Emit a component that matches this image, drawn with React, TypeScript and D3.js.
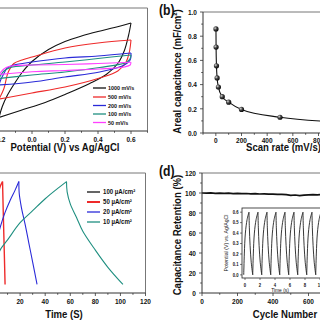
import * as d3 from "d3";

// ---------- (a) cyclic voltammetry, [potential (V), current (a.u.)]
const cvLabels = ["1000 mV/s", "500 mV/s", "200 mV/s", "100 mV/s", "50 mV/s"];
const cvColors = ["#111111", "#ee2a2a", "#2a2ad8", "#1f8f80", "#ff40ff"];

const cv1000Up = [[-0.2, -4.8], [-0.18, -3.7], [-0.15, -2.6], [-0.11, -1.5], [-0.06, -0.3], [0, 0.8], [0.1, 2.0], [0.2, 2.8], [0.3, 3.35], [0.4, 3.8], [0.5, 4.2], [0.6, 4.65]];
const cv1000Down = [[0.6, 4.65], [0.585, 3.4], [0.56, 1.9], [0.52, 0.6], [0.45, -0.5], [0.35, -1.4], [0.2, -2.5], [0.08, -3.3], [-0.07, -4.1], [-0.2, -4.8]];
const cv500Up = [[-0.2, -2.95], [-0.17, -1.9], [-0.145, -0.3], [-0.11, 0.6], [-0.06, 0.95], [0, 1.25], [0.2, 2.15], [0.4, 2.65], [0.6, 2.95]];
const cv500Down = [[0.6, 2.95], [0.59, 1.75], [0.57, 0.75], [0.52, -0.15], [0.41, -0.85], [0.2, -1.75], [0, -2.35], [-0.13, -2.75], [-0.2, -2.95]];
const cv200Up = [[-0.2, -1.55], [-0.19, -1.05], [-0.17, -0.4], [-0.15, 0.15], [-0.11, 0.45], [0, 0.75], [0.2, 1.15], [0.4, 1.35], [0.6, 1.65]];
const cv200Down = [[0.6, 1.65], [0.595, 0.95], [0.56, 0.45], [0.41, -0.25], [0.2, -0.75], [0, -1.25], [-0.2, -1.55]];
const cv100Up = [[-0.2, -0.9], [-0.19, -0.6], [-0.17, -0.15], [-0.13, 0.2], [0, 0.45], [0.2, 0.75], [0.4, 1.1], [0.6, 1.45]];
const cv100Down = [[0.6, 1.45], [0.595, 1.1], [0.57, 0.7], [0.41, 0.2], [0.2, -0.25], [0, -0.55], [-0.2, -0.9]];
const cv50Up = [[-0.2, -0.5], [-0.19, -0.3], [-0.17, 0.05], [-0.14, 0.3], [-0.1, 0.4], [0, 0.45], [0.2, 0.5], [0.4, 0.6], [0.6, 0.72]];
const cv50Down = [[0.6, 0.72], [0.595, 0.45], [0.56, 0.25], [0.41, 0.05], [0.2, -0.1], [0, -0.22], [-0.2, -0.5]];
const cvSeries = [[cv1000Up, cv1000Down], [cv500Up, cv500Down], [cv200Up, cv200Down], [cv100Up, cv100Down], [cv50Up, cv50Down]];

const aTicks = [-0.2, 0, 0.2, 0.4, 0.6];
const aMinor = [-0.3, -0.1, 0.1, 0.3, 0.5, 0.7];

// ---------- (b) areal capacitance vs scan rate
const scanRates = [1, 2, 5, 10, 20, 50, 100, 200, 500, 1000];
const arealCap = [0.86, 0.71, 0.555, 0.455, 0.38, 0.3, 0.255, 0.195, 0.13, 0.09];
const bxTicks = [0, 200, 400, 600, 800, 1000];
const bxMinor = [-100, 100, 300, 500, 700, 900];
const byTicks = [0, 0.2, 0.4, 0.6, 0.8, 1.0];
const byMinor = [0.1, 0.3, 0.5, 0.7, 0.9];

// ---------- (c) charge/discharge, [time (s), potential (V)]
const gcdLabels = ["100 \u00b5A/cm\u00b2", "50 \u00b5A/cm\u00b2", "20 \u00b5A/cm\u00b2", "10 \u00b5A/cm\u00b2"];
const gcdColors = ["#111111", "#ee2a2a", "#2a2ad8", "#1f8f80"];
const gcd100 = [[0, 0], [0.2, 0.3], [0.8, 0.5], [1.5, 0.6], [1.6, 0.5], [2.0, 0.25], [2.5, 0]];
const gcd50 = [[0, 0], [0.3, 0.25], [1, 0.4], [2, 0.5], [4, 0.57], [6, 0.6], [6.2, 0.53], [6.8, 0.35], [7.4, 0.18], [8, 0]];
const gcd20 = [[0, 0], [0.5, 0.15], [1.5, 0.25], [4, 0.33], [8, 0.42], [12, 0.49], [16, 0.55], [19, 0.6], [19.3, 0.53], [21, 0.45], [24, 0.35], [27, 0.24], [30, 0.13], [33.5, 0]];
const gcd10 = [[0, 0], [1, 0.1], [2, 0.15], [4, 0.2], [10, 0.26], [20, 0.36], [30, 0.43], [40, 0.5], [50, 0.56], [57, 0.6], [57.5, 0.54], [60, 0.47], [65, 0.39], [70, 0.31], [80, 0.2], [90, 0.1], [102, 0]];
const gcdSeries = [gcd100, gcd50, gcd20, gcd10];
const cTicks = [0, 20, 40, 60, 80, 100, 120];
const cMinor = [-10, 10, 30, 50, 70, 90, 110];

// ---------- (d) cycling stability, retention every 25 cycles
const retentionStep = 25;
const retention = [100.0, 99.8, 100.1, 99.7, 99.9, 99.6, 99.8, 99.4, 99.6, 99.3, 99.5, 99.1, 99.3, 99.0, 99.2, 98.8, 98.9, 98.6, 98.7, 98.3, 97.6, 98.0, 97.4, 97.9, 98.2, 98.4, 98.1, 98.5, 98.3, 98.6, 98.2, 98.4, 98.1, 98.3, 97.9, 98.2, 98.0, 98.1, 97.8, 98.0, 97.9];
const dxTicks = [0, 200, 400, 600, 800, 1000];
const dxMinor = [100, 300, 500, 700, 900];
const dyTicks = [0, 20, 40, 60, 80, 100, 120];
const dyMinor = [10, 30, 50, 70, 90, 110];

// inset: cycle start times and the shape of one charge / discharge
const insetStarts = [-0.17, 1.03, 2.23, 3.43, 4.63, 5.83, 7.03, 8.23, 9.43, 10.63];
const chargeShape = [[0, 0], [0.08, 0.2], [0.22, 0.4], [0.45, 0.53], [0.7, 0.6]];
const dischargeShape = [[0, 0.6], [0.05, 0.45], [0.15, 0.28], [0.3, 0.12], [0.5, 0]];
const ixTicks = [0, 2, 4, 6, 8, 10];
const iyTicks = [0, 0.1, 0.2, 0.3, 0.4, 0.5, 0.6];

const F = "'Liberation Sans', Arial, Helvetica, sans-serif";
const SX = 0.87;
const AX = "#333";

function T({ x, y, size = 7.5, anchor = "middle", rot = 0, weight = "bold", children }: any) {
  return (
    <text transform={`translate(${x},${y}) rotate(${rot}) scale(${SX},1)`} fontSize={size} fontFamily={F}
      fontWeight={weight} textAnchor={anchor} fill="#111">{children}</text>
  );
}

function BottomAxis({ scale, y, major, minor, fmt, size = 7.5, len = 3, gap = 10.5 }: any) {
  const [x0, x1] = scale.range();
  return (
    <g>
      <line x1={x0} x2={x1} y1={y} y2={y} stroke={AX} />
      {minor.map((v: number) => <line key={"m" + v} x1={scale(v)} x2={scale(v)} y1={y} y2={y + len * 0.6} stroke={AX} strokeWidth={0.8} />)}
      {major.map((v: number) => (
        <g key={v}>
          <line x1={scale(v)} x2={scale(v)} y1={y} y2={y + len} stroke={AX} strokeWidth={0.8} />
          <T x={scale(v)} y={y + gap} size={size}>{fmt(v)}</T>
        </g>
      ))}
    </g>
  );
}

function LeftAxis({ scale, x, major, minor, fmt, size = 7.5, len = 3, gap = 6 }: any) {
  const [y0, y1] = scale.range();
  return (
    <g>
      <line x1={x} x2={x} y1={y0} y2={y1} stroke={AX} />
      {minor.map((v: number) => <line key={"m" + v} x1={x} x2={x - len * 0.6} y1={scale(v)} y2={scale(v)} stroke={AX} strokeWidth={0.8} />)}
      {major.map((v: number) => (
        <g key={v}>
          <line x1={x} x2={x - len} y1={scale(v)} y2={scale(v)} stroke={AX} strokeWidth={0.8} />
          <T x={x - gap} y={scale(v) + size * 0.36} size={size} anchor="end">{fmt(v)}</T>
        </g>
      ))}
    </g>
  );
}

const xA = d3.scaleLinear().domain([-0.3, 0.7]).range([-17.5, 147.5]);
const yA = d3.scaleLinear().domain([-6.15, 6.15]).range([131, 8]);
const xB = d3.scaleLinear().domain([-100, 1100]).range([203, 357]);
const yB = d3.scaleLinear().domain([0, 1]).range([133, 12]);
const xC = d3.scaleLinear().domain([-10, 120]).range([-17.5, 145.5]);
const yC = d3.scaleLinear().domain([-0.05, 0.65]).range([293, 173]);
const xD = d3.scaleLinear().domain([0, 1000]).range([202, 379.5]);
const yD = d3.scaleLinear().domain([0, 120]).range([293, 173]);
const xI = d3.scaleLinear().domain([-0.4, 16]).range([242, 365]);
const yI = d3.scaleLinear().domain([-0.03, 0.64]).range([278, 208]);

export default function App() {
  const f1 = d3.format(".1f");
  const fd = d3.format("d");
  const lineA = d3.line<number[]>().x(d => xA(d[0])).y(d => yA(d[1])).curve(d3.curveCatmullRom.alpha(0.5));
  const lineB = d3.line<number>().x((_, i) => xB(scanRates[i])).y(d => yB(d)).curve(d3.curveMonotoneX);
  const lineC = d3.line<number[]>().x(d => xC(d[0])).y(d => yC(d[1])).curve(d3.curveCatmullRom.alpha(0.5));
  const lineD = d3.line<number>().x((_, i) => xD(i * retentionStep)).y(d => yD(d));
  const lineI = d3.line<number[]>().x(d => xI(d[0])).y(d => yI(d[1])).curve(d3.curveCatmullRom.alpha(0.5));

  const splitAtPeak = (s: number[][]) => {
    const k = d3.maxIndex(s, d => d[1]);
    return [s.slice(0, k + 1), s.slice(k)];
  };

  const aLegendRows = [88, 97, 105.5, 114, 122.5];
  const cLegendRows = [192, 202, 212, 222];

  return (
    <svg width={320} height={320} style={{ position: "absolute", left: 0, top: 0, background: "#fff" }}>
      <defs>
        <clipPath id="cA"><rect x={xA.range()[0]} y={8} width={165} height={123} /></clipPath>
        <clipPath id="cB"><rect x={203} y={12} width={160} height={121} /></clipPath>
        <clipPath id="cC"><rect x={-17.5} y={173} width={163} height={120} /></clipPath>
        <clipPath id="cD"><rect x={202} y={173} width={180} height={120} /></clipPath>
        <clipPath id="cI"><rect x={242} y={208} width={130} height={70} /></clipPath>
        <radialGradient id="ball" cx="35%" cy="35%" r="70%">
          <stop offset="0%" stopColor="#d8d8d8" />
          <stop offset="45%" stopColor="#444" />
          <stop offset="100%" stopColor="#000" />
        </radialGradient>
      </defs>
      <rect width={320} height={320} fill="#fff" />

      {/* (a) */}
      <line x1={-17.5} x2={147.5} y1={8} y2={8} stroke="#777" />
      <line x1={147.5} x2={147.5} y1={8} y2={131} stroke="#777" />
      <g clipPath="url(#cA)" fill="none">
        {cvSeries.map((pair, i) => pair.map((seg, j) => (
          <path key={i + "-" + j} d={lineA(seg) || ""} stroke={cvColors[i]} strokeWidth={1.1} />
        )))}
      </g>
      <BottomAxis scale={xA} y={131} major={aTicks} minor={aMinor} fmt={f1} />
      <T x={65} y={151} size={11}>Potential (V) vs Ag/AgCl</T>
      {cvLabels.map((l, i) => (
        <g key={l}>
          <line x1={93} x2={106} y1={aLegendRows[i]} y2={aLegendRows[i]} stroke={cvColors[i]} strokeWidth={1.3} />
          <T x={108} y={aLegendRows[i] + 2.2} size={6.2} anchor="start">{l}</T>
        </g>
      ))}

      {/* (b) */}
      <line x1={203} x2={357} y1={12} y2={12} stroke="#777" />
      <g clipPath="url(#cB)">
        <path d={lineB(arealCap) || ""} fill="none" stroke="#111" strokeWidth={1.1} />
        {arealCap.map((v, i) => <circle key={i} cx={xB(scanRates[i])} cy={yB(v)} r={2.6} fill="url(#ball)" />)}
      </g>
      <BottomAxis scale={xB} y={133} major={bxTicks} minor={bxMinor} fmt={fd} gap={10} />
      <LeftAxis scale={yB} x={203} major={byTicks} minor={byMinor} fmt={f1} />
      <T x={181} y={71.5} size={11} rot={-90}>Areal capacitance (mF/cm²)</T>
      <T x={246} y={151} size={11} anchor="start">Scan rate (mV/s)</T>
      <T x={159} y={15} size={14} anchor="start">(b)</T>

      {/* (c) */}
      <line x1={-17.5} x2={145.5} y1={173} y2={173} stroke="#777" />
      <line x1={145.5} x2={145.5} y1={173} y2={293} stroke="#777" />
      <g clipPath="url(#cC)" fill="none">
        {gcdSeries.map((s, i) => splitAtPeak(s).map((seg, j) => (
          <path key={i + "-" + j} d={lineC(seg) || ""} stroke={gcdColors[i]} strokeWidth={i === 1 ? 1.4 : 1.1} />
        )))}
      </g>
      <BottomAxis scale={xC} y={293} major={cTicks} minor={cMinor} fmt={fd} gap={11} />
      <T x={64} y={318} size={11}>Time (S)</T>
      {gcdLabels.map((l, i) => (
        <g key={l}>
          <line x1={87} x2={100} y1={cLegendRows[i]} y2={cLegendRows[i]} stroke={gcdColors[i]} strokeWidth={i === 1 ? 2 : 1.3} />
          <T x={103} y={cLegendRows[i] + 2.4} size={7} anchor="start">{l}</T>
        </g>
      ))}

      {/* (d) */}
      <line x1={202} x2={380} y1={173} y2={173} stroke="#777" />
      <g clipPath="url(#cD)">
        <path d={lineD(retention) || ""} fill="none" stroke="#111" strokeWidth={1.7} />
      </g>
      <BottomAxis scale={xD} y={293} major={dxTicks} minor={dxMinor} fmt={fd} gap={11} />
      <LeftAxis scale={yD} x={202} major={dyTicks} minor={dyMinor} fmt={fd} />
      <T x={181} y={235} size={11} rot={-90}>Capacitance Retention (%)</T>
      <T x={285} y={318} size={11}>Cycle Number</T>
      <T x={159} y={176} size={14} anchor="start">(d)</T>

      {/* inset */}
      <rect x={242} y={208} width={140} height={70} fill="#fff" stroke="#222" strokeWidth={0.8} />
      <g clipPath="url(#cI)" fill="none" stroke="#222" strokeWidth={0.9}>
        {insetStarts.map((t0, i) => (
          <g key={i}>
            <path d={lineI(chargeShape.map(p => [t0 + p[0], p[1]])) || ""} />
            <path d={lineI(dischargeShape.map(p => [t0 + 0.7 + p[0], p[1]])) || ""} />
          </g>
        ))}
      </g>
      {ixTicks.map(v => (
        <g key={v}>
          <line x1={xI(v)} x2={xI(v)} y1={278} y2={280} stroke="#222" strokeWidth={0.6} />
          <T x={xI(v)} y={286.5} size={4.8}>{fd(v)}</T>
        </g>
      ))}
      {iyTicks.map(v => (
        <g key={v}>
          <line x1={242} x2={240} y1={yI(v)} y2={yI(v)} stroke="#222" strokeWidth={0.6} />
          <T x={238.5} y={yI(v) + 1.7} size={4.8} anchor="end">{f1(v)}</T>
        </g>
      ))}
      <T x={227.5} y={243} size={6} rot={-90} weight="normal">Potential (V) vs. Ag/AgCl</T>
      <T x={280} y={292.3} size={5.6} weight="normal">Time (s)</T>
    </svg>
  );
}
